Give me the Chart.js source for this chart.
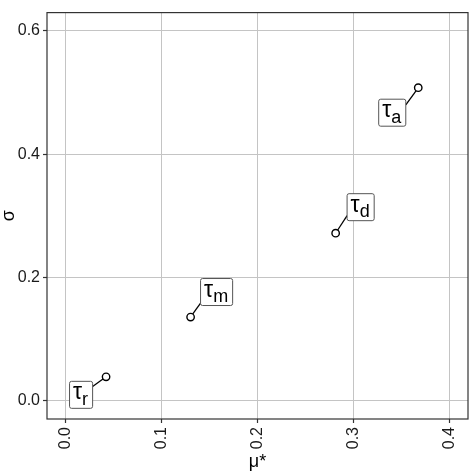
<!DOCTYPE html>
<html>
<head>
<meta charset="utf-8">
<script src="https://cdn.jsdelivr.net/npm/chart.js@4/dist/chart.umd.min.js"></script>
<style>
  html, body { margin: 0; padding: 0; background: #fff; }
</style>
</head>
<body>
<canvas id="chart" width="474" height="474"></canvas>
<script>
// Daten
var params = ['r', 'm', 'd', 'a'];
var muStar = [0.042, 0.130, 0.281, 0.367];
var sigma = [0.039, 0.136, 0.272, 0.508];
var xTicks = [0, 0.1, 0.2, 0.3, 0.4];
var yTicks = [0, 0.2, 0.4, 0.6];

var points = muStar.map(function (m, i) { return { x: m, y: sigma[i] }; });

// Rahmen + Beschriftungen (tau-Labels mit Verbindungslinie)
var labelPlugin = {
  id: 'labels',
  afterDatasetsDraw: function (chart) {
    var ctx = chart.ctx;
    var a = chart.chartArea;
    ctx.save();
    ctx.strokeStyle = '#333';
    ctx.lineWidth = 1.2;
    ctx.strokeRect(a.left, a.top, a.right - a.left, a.bottom - a.top);

    // Mittelpunkt der Box relativ zum Punkt, px; dritter Wert = Verschiebung des Linienziels
    var offsets = [[-25, 18, 0], [26, -25, -8], [25, -26, -8], [-26, 25, 8]];
    var meta = chart.getDatasetMeta(0);
    meta.data.forEach(function (el, i) {
      var big = '23px "Liberation Sans", Arial, sans-serif';
      var small = '18px "Liberation Sans", Arial, sans-serif';
      ctx.font = big;
      var wT = ctx.measureText('\u03c4').width;
      ctx.font = small;
      var wS = ctx.measureText(params[i]).width;
      var w = wT + wS + 8, h = 27;
      var cx = el.x + offsets[i][0], cy = el.y + offsets[i][1];
      var x0 = cx - w / 2, y0 = cy - h / 2;

      // Linie vom Punkt zum Rand der Box
      var dx = cx + offsets[i][2] - el.x, dy = cy - el.y;
      var tx = (Math.abs(el.x - cx) - w / 2) / Math.abs(dx);
      var ty = (Math.abs(dy) - h / 2) / Math.abs(dy);
      var t = Math.max(tx, ty);
      var len = Math.sqrt(dx * dx + dy * dy);
      var t0 = 3.8 / len;
      ctx.strokeStyle = '#000';
      ctx.lineWidth = 1.3;
      ctx.beginPath();
      ctx.moveTo(el.x + dx * t0, el.y + dy * t0);
      ctx.lineTo(el.x + dx * t, el.y + dy * t);
      ctx.stroke();

      // Box
      ctx.fillStyle = '#fff';
      ctx.strokeStyle = '#555';
      ctx.lineWidth = 1;
      ctx.beginPath();
      ctx.roundRect(x0, y0, w, h, 2);
      ctx.fill();
      ctx.stroke();

      ctx.fillStyle = '#000';
      ctx.textBaseline = 'alphabetic';
      ctx.textAlign = 'left';
      ctx.font = big;
      ctx.fillText('\u03c4', x0 + 3.5, y0 + 18);
      ctx.font = small;
      ctx.fillText(params[i], x0 + 3.5 + wT, y0 + 23.5);
    });
    ctx.restore();
  }
};

var tickFont = { family: '"Liberation Sans", Arial, sans-serif', size: 16 };
var titleFont = { family: '"Liberation Sans", Arial, sans-serif', size: 18, lineHeight: 1 };

new Chart(document.getElementById('chart').getContext('2d'), {
  type: 'scatter',
  data: {
    datasets: [{
      data: points,
      pointStyle: 'circle',
      pointRadius: 3.7,
      pointHoverRadius: 3.7,
      pointBorderWidth: 1.4,
      borderColor: '#000',
      backgroundColor: 'rgba(0,0,0,0)'
    }]
  },
  options: {
    responsive: false,
    animation: false,
    events: [],
    layout: { padding: { top: 5, right: 6, left: 0, bottom: 0 } },
    plugins: { legend: { display: false }, tooltip: { enabled: false } },
    scales: {
      x: {
        type: 'linear',
        min: -0.0195,
        max: 0.4188,
        afterBuildTicks: function (s) { s.ticks = xTicks.map(function (v) { return { value: v }; }); },
        afterFit: function (s) { s.height = 55; },
        border: { display: false },
        grid: { color: '#c4c4c4', lineWidth: 1, tickLength: 4, tickColor: '#333', tickWidth: 1.2 },
        ticks: {
          color: '#1a1a1a', font: tickFont, padding: 4,
          minRotation: 90, maxRotation: 90, autoSkip: false,
          callback: function (v) { return v.toFixed(1); }
        },
        title: { display: true, text: '\u03bc*', color: '#000', font: titleFont, padding: { top: 0, bottom: 3 } }
      },
      y: {
        type: 'linear',
        min: -0.0294,
        max: 0.6298,
        afterBuildTicks: function (s) { s.ticks = yTicks.map(function (v) { return { value: v }; }); },
        afterFit: function (s) { s.width = 47; },
        border: { display: false },
        grid: { color: '#c4c4c4', lineWidth: 1, tickLength: 4, tickColor: '#333', tickWidth: 1.2 },
        ticks: {
          color: '#1a1a1a', font: tickFont, padding: 3, autoSkip: false,
          callback: function (v) { return v.toFixed(1); }
        },
        title: { display: true, text: '\u03c3', color: '#000', font: titleFont, padding: { top: 0, bottom: 0 } }
      }
    }
  },
  plugins: [labelPlugin]
});
</script>
</body>
</html>
